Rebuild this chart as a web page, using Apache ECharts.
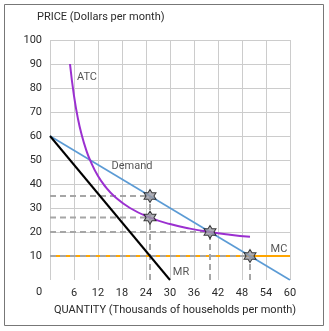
<!DOCTYPE html>
<html><head><meta charset="utf-8">
<script src="https://cdn.jsdelivr.net/npm/echarts@6/dist/echarts.min.js"></script>
<style>html,body{margin:0;padding:0;background:#fff}#c{width:329px;height:331px}</style>
</head><body><div id="c"></div>
<script>
// ---- data ----
const demand = [[0, 60], [60, 0]];
const mr = [[0, 60], [30, 0]];
const mc = [[0, 10], [60, 10]];
const atc = [[5, 90], [6, 76.7], [7, 67.1], [8, 60], [9, 54.4], [10, 50], [12, 43.3], [14, 38.6], [16, 35], [20, 30], [25, 26], [30, 23.3], [35, 21.4], [40, 20], [45, 18.9], [50, 18]];
const guideH = [[[0, 35], [25, 35]], [[0, 26], [25, 26]], [[0, 20], [40, 20]], [[0, 10], [50, 10]]];
const guideV = [[[25, 0], [25, 35]], [[40, 0], [40, 20]], [[50, 0], [50, 10]]];
const stars = [[25, 35], [25, 26], [40, 20], [50, 10]];
const curveLabels = [
  { name: 'ATC', value: [9.25, 84.6] },
  { name: 'Demand', value: [20.5, 47.5] },
  { name: 'MR', value: [32.75, 3.3] },
  { name: 'MC', value: [57.25, 12.9] }
];
const xTicks = { min: 0, max: 60, interval: 6 };
const yTicks = { min: 0, max: 100, interval: 10 };
const yTitle = 'PRICE (Dollars per month)';
const xTitle = 'QUANTITY (Thousands of households per month)';

const FONT = 'Roboto';
const TXT = '#2a2a2a';
const GRAY = '#a6a6a6';
const starPath = 'path://M100 0 L128.9 50 L186.6 50 L157.7 100 L186.6 150 L128.9 150 L100 200 L71.1 150 L13.4 150 L42.3 100 L13.4 50 L71.1 50 Z';

const series = [];
guideH.concat(guideV).forEach(seg => {
  series.push({ type: 'line', data: seg, symbol: 'none', z: 3, silent: true,
    lineStyle: { color: GRAY, width: 2, type: [6, 4] } });
});
series.push({ type: 'line', data: mc, symbol: 'none', z: 2, lineStyle: { color: '#ffa500', width: 2 } });
series.push({ type: 'line', data: demand, symbol: 'none', z: 4, lineStyle: { color: '#5b9bd5', width: 1.6 } });
series.push({ type: 'line', data: mr, symbol: 'none', z: 4, lineStyle: { color: '#000', width: 2 } });
series.push({ type: 'line', data: atc, symbol: 'none', smooth: true, z: 4, lineStyle: { color: '#9b30d0', width: 2 } });
series.push({ type: 'scatter', data: stars, symbol: starPath, symbolSize: [12, 13], z: 6,
  itemStyle: { color: '#9a9aa4', borderColor: '#111', borderWidth: 1 } });
series.push({ type: 'scatter', data: curveLabels, symbolSize: 0, z: 7,
  label: { show: true, position: 'inside', formatter: p => p.name, color: TXT, fontFamily: FONT, fontSize: 11 } });

const chart = echarts.init(document.getElementById('c'), null, { renderer: 'canvas' });
chart.setOption({
  animation: false,
  backgroundColor: '#fff',
  grid: { left: 50, top: 40, width: 240, height: 240 },
  xAxis: {
    type: 'value', min: xTicks.min, max: xTicks.max, interval: xTicks.interval,
    axisLine: { show: false }, axisTick: { show: false },
    axisLabel: { color: TXT, fontFamily: FONT, fontSize: 11, margin: 8,
      formatter: v => (v === 0 ? '' : String(v)) },
    splitLine: { show: true, lineStyle: { color: '#cccccc', width: 1 } }
  },
  yAxis: {
    type: 'value', min: yTicks.min, max: yTicks.max, interval: yTicks.interval,
    axisLine: { show: false }, axisTick: { show: false },
    axisLabel: { color: TXT, fontFamily: FONT, fontSize: 11, margin: 8,
      formatter: v => (v === 0 ? '' : String(v)) },
    splitLine: { show: true, showMinLine: false, lineStyle: { color: '#cccccc', width: 1 } }
  },
  graphic: [
    { type: 'rect', shape: { x: 4.5, y: 4.5, width: 319, height: 321 }, style: { fill: 'none', stroke: '#777', lineWidth: 1 }, z: 0 },
    { type: 'text', left: 37, top: 12, style: { text: yTitle, fill: TXT, font: '11px ' + FONT } },
    { type: 'text', left: 54, top: 305, style: { text: xTitle, fill: TXT, font: '11px ' + FONT } },
    { type: 'text', left: 36, top: 287, style: { text: '0', fill: TXT, font: '11px ' + FONT } }
  ],
  series: series
});
</script>
</body></html>
